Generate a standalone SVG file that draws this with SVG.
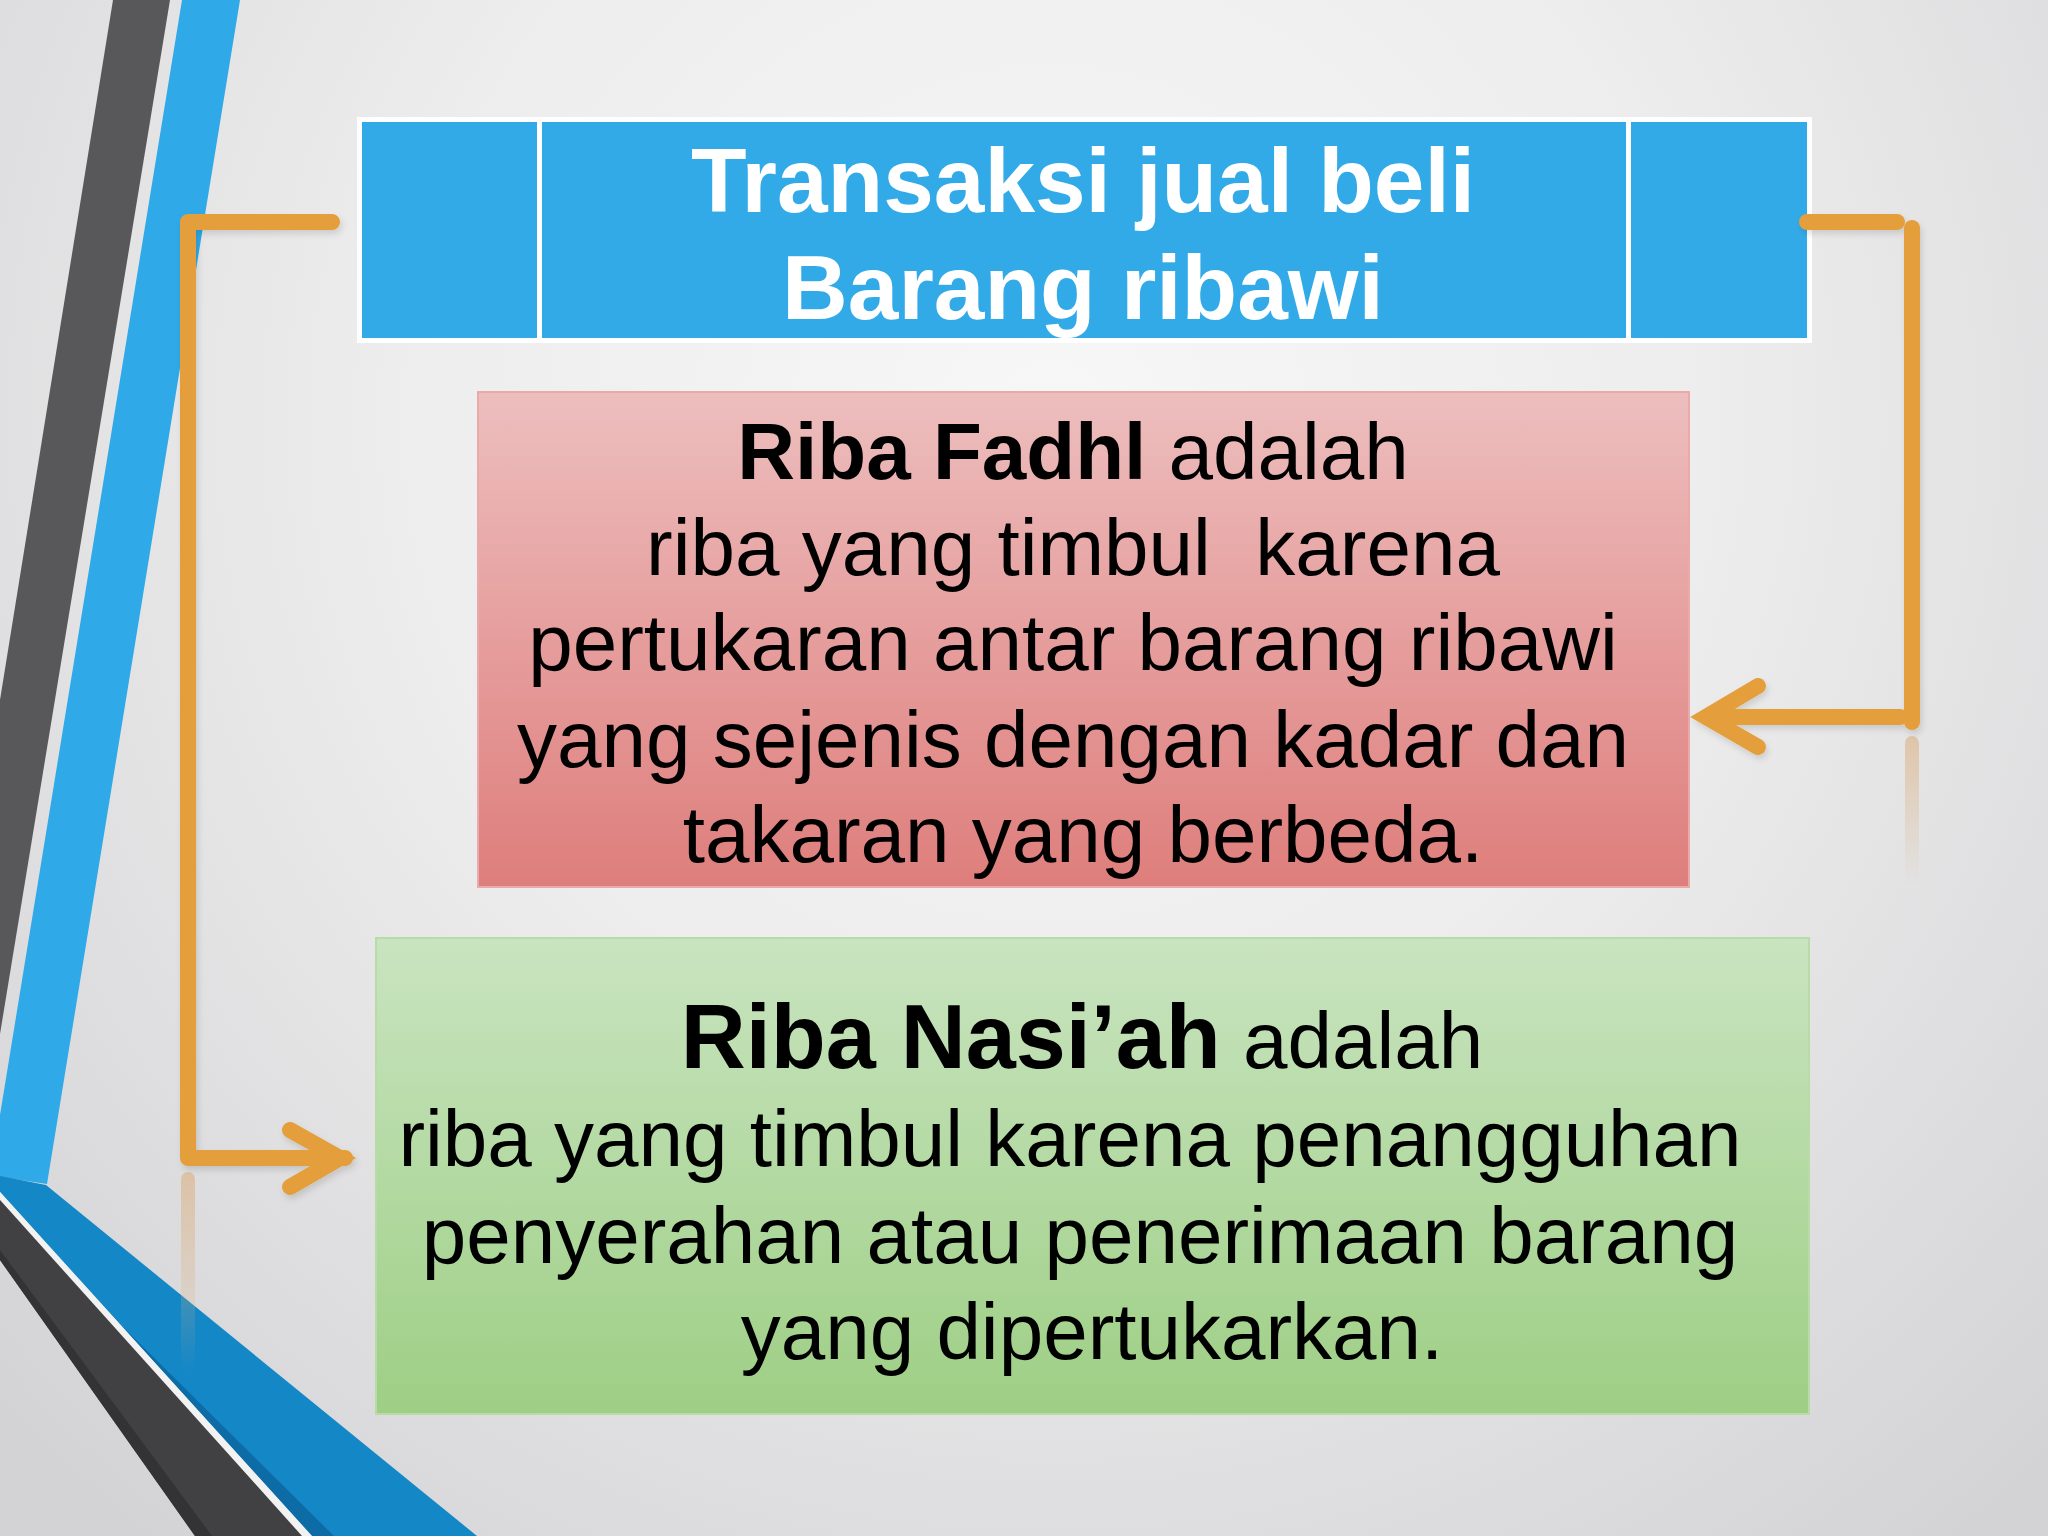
<svg xmlns="http://www.w3.org/2000/svg" width="2048" height="1536" viewBox="0 0 2048 1536">
<defs>
<radialGradient id="bg" cx="1050" cy="420" r="1450" gradientUnits="userSpaceOnUse">
<stop offset="0" stop-color="#f7f7f8"/>
<stop offset="0.45" stop-color="#ededee"/>
<stop offset="1" stop-color="#d3d3d5"/>
</radialGradient>
<linearGradient id="pinkG" x1="0" y1="0" x2="0" y2="1">
<stop offset="0" stop-color="#edbebe"/>
<stop offset="1" stop-color="#de7e7c"/>
</linearGradient>
<linearGradient id="greenG" x1="0" y1="0" x2="0" y2="1">
<stop offset="0" stop-color="#c9e4c0"/>
<stop offset="1" stop-color="#9ecf85"/>
</linearGradient>
<linearGradient id="refl" x1="0" y1="0" x2="0" y2="1">
<stop offset="0" stop-color="#dbb080" stop-opacity="0.6"/>
<stop offset="1" stop-color="#dbb080" stop-opacity="0"/>
</linearGradient>
<filter id="sh" x="-10%" y="-10%" width="130%" height="140%">
<feDropShadow dx="2" dy="4" stdDeviation="3" flood-color="#000" flood-opacity="0.12"/>
</filter>
</defs>
<style>
.txt{font-family:"Liberation Sans",Arial,sans-serif;text-anchor:middle;white-space:pre}
.hdr{font-size:91px;font-weight:bold;fill:#ffffff}
.body{font-size:80px;fill:#000000}
.b{font-weight:bold}
.blue{fill:#33aae8}
.conn{fill:none;stroke:#e49e3b;stroke-width:16;stroke-linecap:round;stroke-linejoin:round}
.head{fill:none;stroke:#e49e3b;stroke-width:16;stroke-linecap:round;stroke-linejoin:miter}
.refl{fill:url(#refl)}
</style>

<rect x="0" y="0" width="2048" height="1536" fill="url(#bg)"/>

<g id="decor">
<polygon points="113,0 170,0 0,1034 0,700" fill="#58585a"/>
<polygon points="182,0 240,0 47,1184 0,1177 0,1115" fill="#2fa9e8"/>
<polygon points="0,1176 46,1185 477,1536 312,1536 0,1192" fill="#1487c7"/>
<polygon points="120,1324 312,1536 334,1536" fill="#0d6ca5"/>
<polygon points="0,1192 312,1536 302,1536 0,1200" fill="#f2f2f2"/>
<polygon points="0,1200 302,1536 195,1536 0,1260" fill="#414143"/>
<polygon points="0,1250 0,1260 195,1536 212,1536" fill="#333335"/>
</g>

<g id="header">
<rect x="357" y="117" width="1455" height="226" fill="#ffffff"/>
<rect class="blue" x="362" y="122" width="175" height="216"/>
<rect class="blue" x="542" y="122" width="1084" height="216"/>
<rect class="blue" x="1631" y="122" width="176" height="216"/>
<text class="txt hdr" x="1083" y="212">Transaksi jual beli</text>
<text class="txt hdr" x="1083" y="319">Barang ribawi</text>
</g>

<g id="riba-fadhl">
<rect x="478" y="392" width="1211" height="495" fill="url(#pinkG)" stroke="#eaaaaa" stroke-width="2"/>
<text class="txt body" x="1073" y="479"><tspan class="b">Riba Fadhl</tspan> adalah</text>
<text class="txt body" x="1073" y="575">riba yang timbul  karena</text>
<text class="txt body" x="1073" y="670">pertukaran antar barang ribawi</text>
<text class="txt body" x="1073" y="767">yang sejenis dengan kadar dan</text>
<text class="txt body" x="1083" y="862">takaran yang berbeda.</text>
</g>

<g id="riba-nasiah">
<rect x="376" y="938" width="1433" height="476" fill="url(#greenG)" stroke="#b8dca8" stroke-width="2"/>
<text class="txt body" x="1082" y="1068"><tspan class="b" style="font-size:90px">Riba Nasi’ah</tspan> adalah</text>
<text class="txt body" x="1070" y="1166">riba yang timbul karena penangguhan</text>
<text class="txt body" x="1080" y="1263">penyerahan atau penerimaan barang</text>
<text class="txt body" x="1092" y="1359">yang dipertukarkan.</text>
</g>

<g id="connectors">
<rect class="refl" x="181" y="1172" width="14" height="200" rx="7"/>
<rect class="refl" x="1905" y="736" width="14" height="150" rx="7"/>
<g filter="url(#sh)">
<path class="conn" d="M332,222 L188,222 L188,1158 L345,1158"/>
<path class="head" d="M290,1130 L340,1158 L290,1187"/>
<path class="conn" d="M1807,222 L1897,222"/>
<path class="conn" d="M1912,228 L1912,722"/>
<path class="conn" d="M1900,717 L1712,717"/>
<path class="head" d="M1758,686 L1706,717 L1758,747"/>
</g>
</g>
</svg>
